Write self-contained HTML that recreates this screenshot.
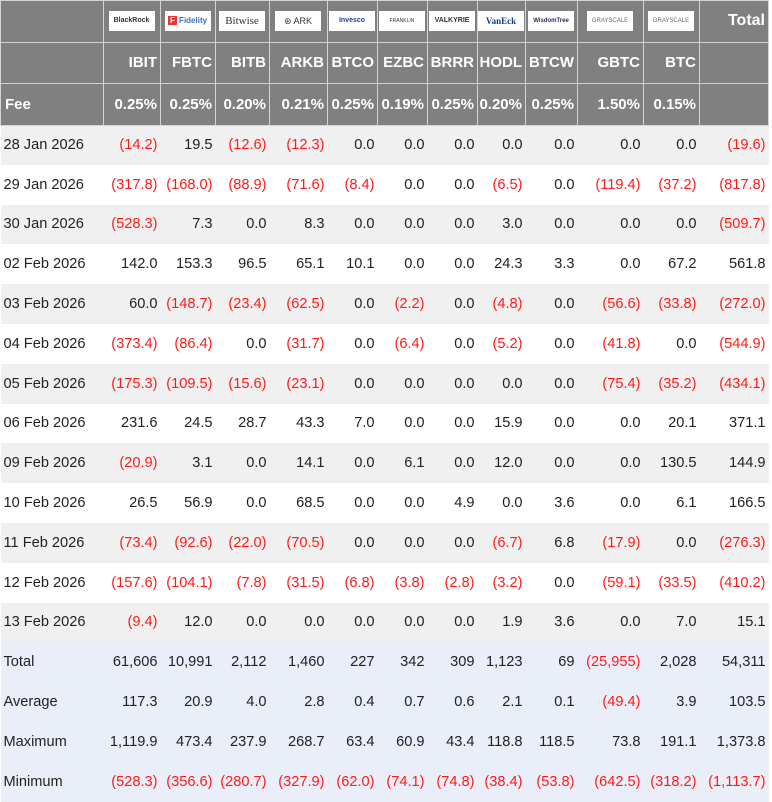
<!DOCTYPE html>
<html><head><meta charset="utf-8"><style>
body{margin:0;background:#fff;width:772px;height:800px;overflow:hidden;font-family:"Liberation Sans",Arial,sans-serif;}
table{border-collapse:collapse;table-layout:fixed;width:768px;font-size:14.6px;color:#222;}
td{padding:0 3px 0 0;text-align:right;white-space:nowrap;overflow:hidden;}
tr{height:39.8px;}
tr.h td{background:#808080;color:#fff;font-weight:bold;font-size:15px;border:1.5px solid #d4d4d4;height:40.5px;}
tr.h td:first-child{text-align:left;padding-left:4px}
tr.g td{background:#f0f0f0}
tr.w td{background:#fff}
tr.s td{background:#e9eef8;height:39.5px}
td.d{text-align:left;padding-left:3px}
.r{color:#ff1a1a}
.logo{display:inline-block;background:#fff;width:46px;height:20px;margin-right:1px;vertical-align:middle;font-size:8px;color:#333;line-height:20px;text-align:center;font-weight:bold;overflow:hidden}
.lr td{text-align:center;padding:0}
</style></head><body>
<table>
<colgroup><col style="width:103px"><col style="width:57px"><col style="width:55px"><col style="width:54px"><col style="width:58px"><col style="width:50px"><col style="width:50px"><col style="width:50px"><col style="width:48px"><col style="width:52px"><col style="width:66px"><col style="width:56px"><col style="width:69px"></colgroup>
<tr class="h lr"><td></td>
<td><span class="logo" style="font-size:7px">BlackRock</span></td>
<td><span class="logo" style="color:#3a6fc0"><span style="background:#e33;color:#fff;padding:0 2px">F</span> Fidelity</span></td>
<td><span class="logo" style="font-family:'Liberation Serif',serif;font-size:11px;font-weight:normal">Bitwise</span></td>
<td><span class="logo" style="font-size:9px;font-weight:normal">⊛ ARK</span></td>
<td><span class="logo" style="color:#2240a0;font-size:7px">Invesco</span></td>
<td><span class="logo" style="font-size:5px;font-weight:normal">FRANKLIN</span></td>
<td><span class="logo" style="font-size:7px">VALKYRIE</span></td>
<td><span class="logo" style="color:#1a3a8a;font-family:'Liberation Serif',serif;font-size:9px">VanEck</span></td>
<td><span class="logo" style="color:#2a3060;font-size:6px">WisdomTree</span></td>
<td><span class="logo" style="font-size:6px;font-weight:normal;color:#666">GRAYSCALE</span></td>
<td><span class="logo" style="font-size:6px;font-weight:normal;color:#666">GRAYSCALE</span></td>
<td style="text-align:right;padding-right:3px;font-size:16px">Total</td></tr>
<tr class="h"><td></td><td>IBIT</td><td>FBTC</td><td>BITB</td><td>ARKB</td><td>BTCO</td><td>EZBC</td><td>BRRR</td><td>HODL</td><td>BTCW</td><td>GBTC</td><td>BTC</td><td></td></tr>
<tr class="h"><td>Fee</td><td>0.25%</td><td>0.25%</td><td>0.20%</td><td>0.21%</td><td>0.25%</td><td>0.19%</td><td>0.25%</td><td>0.20%</td><td>0.25%</td><td>1.50%</td><td>0.15%</td><td></td></tr>
<tr class="g"><td class="d">28 Jan 2026</td><td class="r">(14.2)</td><td>19.5</td><td class="r">(12.6)</td><td class="r">(12.3)</td><td>0.0</td><td>0.0</td><td>0.0</td><td>0.0</td><td>0.0</td><td>0.0</td><td>0.0</td><td class="r">(19.6)</td></tr>
<tr class="w"><td class="d">29 Jan 2026</td><td class="r">(317.8)</td><td class="r">(168.0)</td><td class="r">(88.9)</td><td class="r">(71.6)</td><td class="r">(8.4)</td><td>0.0</td><td>0.0</td><td class="r">(6.5)</td><td>0.0</td><td class="r">(119.4)</td><td class="r">(37.2)</td><td class="r">(817.8)</td></tr>
<tr class="g"><td class="d">30 Jan 2026</td><td class="r">(528.3)</td><td>7.3</td><td>0.0</td><td>8.3</td><td>0.0</td><td>0.0</td><td>0.0</td><td>3.0</td><td>0.0</td><td>0.0</td><td>0.0</td><td class="r">(509.7)</td></tr>
<tr class="w"><td class="d">02 Feb 2026</td><td>142.0</td><td>153.3</td><td>96.5</td><td>65.1</td><td>10.1</td><td>0.0</td><td>0.0</td><td>24.3</td><td>3.3</td><td>0.0</td><td>67.2</td><td>561.8</td></tr>
<tr class="g"><td class="d">03 Feb 2026</td><td>60.0</td><td class="r">(148.7)</td><td class="r">(23.4)</td><td class="r">(62.5)</td><td>0.0</td><td class="r">(2.2)</td><td>0.0</td><td class="r">(4.8)</td><td>0.0</td><td class="r">(56.6)</td><td class="r">(33.8)</td><td class="r">(272.0)</td></tr>
<tr class="w"><td class="d">04 Feb 2026</td><td class="r">(373.4)</td><td class="r">(86.4)</td><td>0.0</td><td class="r">(31.7)</td><td>0.0</td><td class="r">(6.4)</td><td>0.0</td><td class="r">(5.2)</td><td>0.0</td><td class="r">(41.8)</td><td>0.0</td><td class="r">(544.9)</td></tr>
<tr class="g"><td class="d">05 Feb 2026</td><td class="r">(175.3)</td><td class="r">(109.5)</td><td class="r">(15.6)</td><td class="r">(23.1)</td><td>0.0</td><td>0.0</td><td>0.0</td><td>0.0</td><td>0.0</td><td class="r">(75.4)</td><td class="r">(35.2)</td><td class="r">(434.1)</td></tr>
<tr class="w"><td class="d">06 Feb 2026</td><td>231.6</td><td>24.5</td><td>28.7</td><td>43.3</td><td>7.0</td><td>0.0</td><td>0.0</td><td>15.9</td><td>0.0</td><td>0.0</td><td>20.1</td><td>371.1</td></tr>
<tr class="g"><td class="d">09 Feb 2026</td><td class="r">(20.9)</td><td>3.1</td><td>0.0</td><td>14.1</td><td>0.0</td><td>6.1</td><td>0.0</td><td>12.0</td><td>0.0</td><td>0.0</td><td>130.5</td><td>144.9</td></tr>
<tr class="w"><td class="d">10 Feb 2026</td><td>26.5</td><td>56.9</td><td>0.0</td><td>68.5</td><td>0.0</td><td>0.0</td><td>4.9</td><td>0.0</td><td>3.6</td><td>0.0</td><td>6.1</td><td>166.5</td></tr>
<tr class="g"><td class="d">11 Feb 2026</td><td class="r">(73.4)</td><td class="r">(92.6)</td><td class="r">(22.0)</td><td class="r">(70.5)</td><td>0.0</td><td>0.0</td><td>0.0</td><td class="r">(6.7)</td><td>6.8</td><td class="r">(17.9)</td><td>0.0</td><td class="r">(276.3)</td></tr>
<tr class="w"><td class="d">12 Feb 2026</td><td class="r">(157.6)</td><td class="r">(104.1)</td><td class="r">(7.8)</td><td class="r">(31.5)</td><td class="r">(6.8)</td><td class="r">(3.8)</td><td class="r">(2.8)</td><td class="r">(3.2)</td><td>0.0</td><td class="r">(59.1)</td><td class="r">(33.5)</td><td class="r">(410.2)</td></tr>
<tr class="g"><td class="d">13 Feb 2026</td><td class="r">(9.4)</td><td>12.0</td><td>0.0</td><td>0.0</td><td>0.0</td><td>0.0</td><td>0.0</td><td>1.9</td><td>3.6</td><td>0.0</td><td>7.0</td><td>15.1</td></tr>
<tr class="s"><td class="d">Total</td><td>61,606</td><td>10,991</td><td>2,112</td><td>1,460</td><td>227</td><td>342</td><td>309</td><td>1,123</td><td>69</td><td class="r">(25,955)</td><td>2,028</td><td>54,311</td></tr>
<tr class="s"><td class="d">Average</td><td>117.3</td><td>20.9</td><td>4.0</td><td>2.8</td><td>0.4</td><td>0.7</td><td>0.6</td><td>2.1</td><td>0.1</td><td class="r">(49.4)</td><td>3.9</td><td>103.5</td></tr>
<tr class="s"><td class="d">Maximum</td><td>1,119.9</td><td>473.4</td><td>237.9</td><td>268.7</td><td>63.4</td><td>60.9</td><td>43.4</td><td>118.8</td><td>118.5</td><td>73.8</td><td>191.1</td><td>1,373.8</td></tr>
<tr class="s"><td class="d">Minimum</td><td class="r">(528.3)</td><td class="r">(356.6)</td><td class="r">(280.7)</td><td class="r">(327.9)</td><td class="r">(62.0)</td><td class="r">(74.1)</td><td class="r">(74.8)</td><td class="r">(38.4)</td><td class="r">(53.8)</td><td class="r">(642.5)</td><td class="r">(318.2)</td><td class="r">(1,113.7)</td></tr>
</table>
</body></html>
